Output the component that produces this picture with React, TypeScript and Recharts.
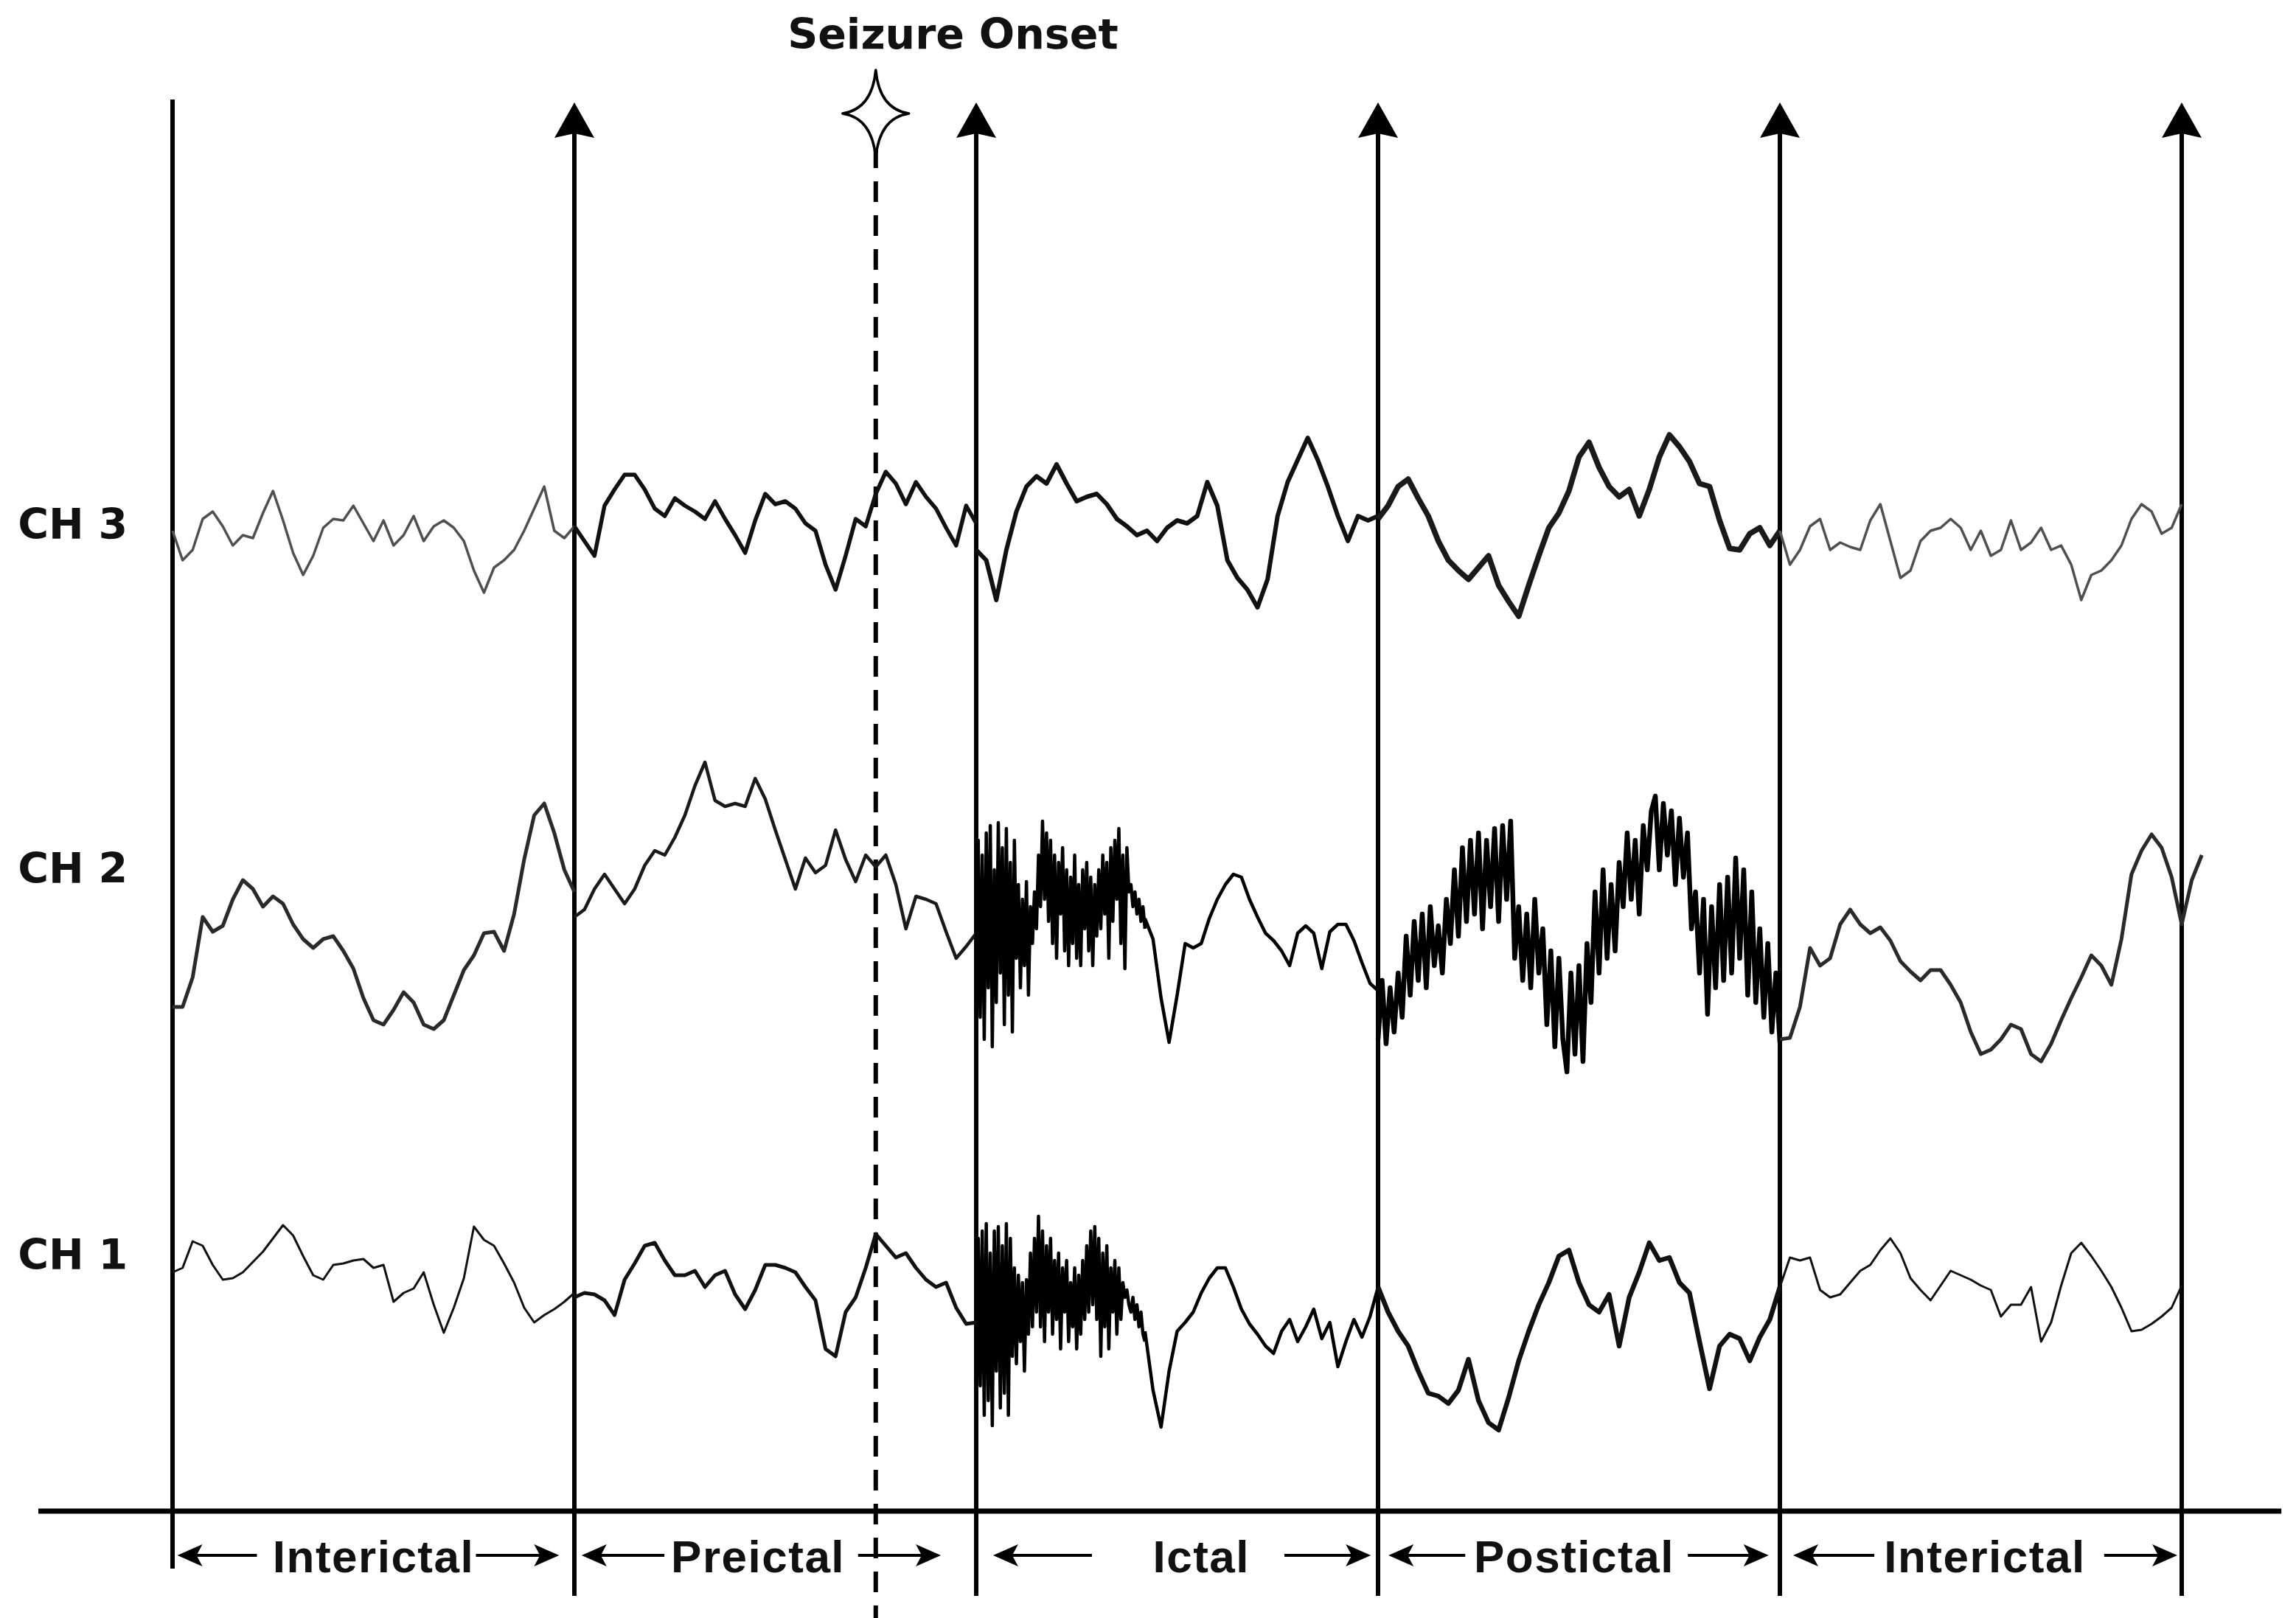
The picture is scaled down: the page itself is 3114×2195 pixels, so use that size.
import { LineChart, Line, XAxis, YAxis, ReferenceLine, ReferenceDot } from 'recharts';

// phase windows, seconds (each phase is a 10 s window)
const boundaries = [0, 10, 20, 30, 40, 50];
const phaseLabels = ['Interictal', 'Preictal', 'Ictal', 'Postictal', 'Interictal'];
const onsetTime = 17.5;
const channelLabels = ['CH 3', 'CH 2', 'CH 1'];
const channelOffsets = [665, 405, 145];

// CH 3 samples (µV deviation from channel baseline)
const ch3Interictal1 = [0, -20, -13, 8, 13, 3, -10, -3, -5, 12, 27, 7, -15, -30, -17, 2, 8, 7, 17, 5, -7, 7, -10, -3, 10, -7, 3, 7, 2, -7, -27, -42, -25, -20, -13, 0, 15, 30, 0, -5, 3];
const ch3Preictal = [3, -7, -17, 17, 28, 38, 38, 28, 15, 10, 22, 17, 13, 8, 20, 8, -3, -15, 7, 25, 18, 20, 15, 5, 0, -23, -40, -17, 8, 3, 25, 40, 32, 18, 33, 23, 15, 2, -10, 17, 5];
const ch3Ictal = [-13, -20, -47, -13, 13, 30, 37, 32, 45, 32, 20, 23, 25, 18, 8, 3, -3, 0, -7, 2, 7, 5, 10, 33, 17, -20, -32, -40, -52, -33, 10, 33, 48, 63, 48, 30, 10, -7, 10, 7, 10];
const ch3Postictal = [8, 17, 30, 35, 22, 10, -7, -20, -27, -33, -25, -17, -37, -48, -58, -37, -17, 2, 12, 27, 50, 60, 43, 30, 23, 28, 10, 28, 50, 65, 57, 47, 32, 30, 7, -12, -13, -2, 2, -10, 0];
const ch3Interictal2 = [0, -23, -13, 3, 8, -13, -8, -11, -13, 7, 18, -7, -32, -27, -7, 0, 2, 8, 2, -13, 0, -17, -13, 7, -13, -8, 2, -13, -10, -23, -47, -30, -27, -20, -10, 8, 18, 13, -2, 2, 18];

// CH 2 samples
const ch2Interictal1 = [-63, -63, -43, -2, -12, -8, 10, 23, 17, 5, 12, 7, -7, -17, -23, -17, -15, -25, -37, -57, -72, -75, -65, -53, -60, -75, -78, -72, -55, -38, -28, -13, -12, -25, 0, 37, 67, 75, 55, 30, 15];
const ch2Preictal = [-2, 3, 17, 27, 17, 7, 17, 33, 43, 40, 52, 67, 87, 103, 77, 73, 75, 73, 92, 78, 57, 37, 17, 38, 28, 33, 57, 37, 22, 40, 32, 40, 20, -10, 12, 10, 7, -12, -30, -22, -13];
const ch2IctalBurst = [
  -20, 50, -70, 40, -85, 55, -50, 60, -90, 30,
  -60, 62, -40, 45, -75, 58, -55, 35, -80, 50,
  -30, 20, -50, 10, -35, 22, -55, 5, -20, 15,
  -10, 40, 5, 63, 10, 55, -5, 50, -20, 40,
  -30, 35, 0, 45, -25, 30, -35, 25, -20, 40,
  -30, 20, -35, 30, -10, 35, -25, 25, -35, 20,
  -15, 30, -10, 40, 0, 35, -30, 45, -5, 50,
  10, 58, -20, 40, -37, 45, 15, 20, 5, 15,
  0, 10, -5, 5, -10,
];
const ch2IctalTail = [-3, -17, -57, -87, -55, -20, -23, -20, -3, 10, 20, 27, 25, 10, -2, -13, -18, -25, -35, -13, -8, -13, -37, -12, -7, -7, -18, -33, -47, -52];
const ch2Postictal = [
  -85, -45, -88, -50, -80, -40, -70, -15, -55, -5,
  -45, 0, -50, 5, -35, -8, -40, 10, -20, 30,
  -15, 45, -5, 50, 0, 55, -10, 50, 5, 58,
  -5, 60, 10, 63, -30, 5, -45, 0, -50, 10,
  -40, -10, -75, -25, -90, -30, -85, -107, -40, -95,
  -35, -100, -20, -60, 15, -40, 30, -30, 20, -25,
  35, 5, 55, 10, 50, 0, 60, 30, 70, 80,
  30, 75, 40, 70, 20, 65, 25, 55, -10, 15,
  -40, 10, -68, 5, -50, 20, -45, 25, -40, 38,
  -30, 30, -55, 15, -60, -10, -70, -20, -80, -40,
  -87,
];
const ch2Interictal2 = [-85, -84, -63, -23, -35, -30, -7, 3, -7, -13, -9, -18, -32, -39, -45, -38, -38, -48, -60, -80, -95, -92, -85, -75, -78, -95, -100, -88, -72, -57, -43, -28, -35, -48, -17, 27, 43, 54, 45, 25, -7, 23, 40];

// CH 1 samples
const ch1Interictal1 = [17, 20, 38, 35, 22, 12, 13, 17, 24, 31, 40, 49, 42, 28, 15, 12, 22, 23, 25, 26, 20, 22, -3, 3, 6, 17, -5, -24, -7, 13, 48, 39, 35, 23, 10, -7, -17, -12, -8, -3, 3];
const ch1Preictal = [0, 3, 2, -2, -12, 12, 23, 35, 37, 25, 15, 15, 18, 7, 15, 18, 2, -8, 5, 22, 22, 20, 17, 7, -2, -35, -40, -10, 0, 20, 43, 35, 27, 30, 20, 12, 7, 10, -7, -18, -17];
const ch1IctalBurst = [
  10, 40, -60, 45, -80, 50, -70, 30, -87, 45,
  -50, 48, -75, 35, -65, 50, -80, 40, -40, 20,
  -45, 15, -30, 10, -50, 12, -25, 30, -20, 40,
  -10, 55, -20, 45, -30, 35, -10, 40, -25, 25,
  -15, 30, -35, 20, -10, 25, -30, 10, -20, 20,
  -35, 15, -25, 25, -15, 35, -10, 45, -5, 48,
  -15, 40, -40, 30, -20, 35, -35, 20, -10, 25,
  -25, 20, -15, 10, 0, 5, -5, -10, 0, -15,
  -5, -20, -10, -25, -30,
];
const ch1IctalTail = [-23, -63, -88, -50, -23, -17, -10, 3, 13, 20, 20, 7, -8, -18, -25, -33, -38, -23, -15, -30, -20, -8, -28, -17, -47, -30, -15, -27, -13, 7];
const ch1Postictal = [7, -10, -23, -33, -50, -65, -67, -72, -63, -42, -70, -85, -90, -68, -43, -23, -5, 10, 28, 32, 10, -5, -10, 2, -33, 0, 17, 37, 25, 27, 10, 3, -30, -62, -33, -25, -28, -43, -27, -15, 7];
const ch1Interictal2 = [7, 27, 25, 27, 5, 0, 2, 10, 18, 22, 32, 40, 30, 13, 5, -2, 8, 18, 15, 12, 8, 5, -13, -5, -5, 7, -30, -17, 8, 30, 37, 28, 18, 7, -7, -23, -22, -18, -13, -7, 8];

const W = 3114;
const H = 2195;
const X_DOMAIN: [number, number] = [-4.294, 52.844];
const Y_DOMAIN: [number, number] = [-72.5, 1025];

type Piece = { key: string; values: number[]; t0: number; dt: number; ch: number; width: number; color: string };

const pieces: Piece[] = [
  { key: 'c3a', values: ch3Interictal1, t0: 0, dt: 0.25, ch: 0, width: 3.5, color: '#505050' },
  { key: 'c3b', values: ch3Preictal, t0: 10, dt: 0.25, ch: 0, width: 5.5, color: '#111' },
  { key: 'c3c', values: ch3Ictal, t0: 20, dt: 0.25, ch: 0, width: 6, color: '#111' },
  { key: 'c3d', values: ch3Postictal, t0: 30, dt: 0.25, ch: 0, width: 7.5, color: '#1a1a1a' },
  { key: 'c3e', values: ch3Interictal2, t0: 40, dt: 0.25, ch: 0, width: 3.5, color: '#505050' },
  { key: 'c2a', values: ch2Interictal1, t0: 0, dt: 0.25, ch: 1, width: 5, color: '#2a2a2a' },
  { key: 'c2b', values: ch2Preictal, t0: 10, dt: 0.25, ch: 1, width: 4.5, color: '#1a1a1a' },
  { key: 'c2c', values: ch2IctalBurst, t0: 20, dt: 0.05, ch: 1, width: 4.5, color: '#000' },
  { key: 'c2d', values: ch2IctalTail, t0: 24.2, dt: 0.2, ch: 1, width: 4.5, color: '#000' },
  { key: 'c2e', values: ch2Postictal, t0: 30, dt: 0.1, ch: 1, width: 6.5, color: '#000' },
  { key: 'c2f', values: ch2Interictal2, t0: 40, dt: 0.25, ch: 1, width: 5, color: '#2a2a2a' },
  { key: 'c1a', values: ch1Interictal1, t0: 0, dt: 0.25, ch: 2, width: 3, color: '#111' },
  { key: 'c1b', values: ch1Preictal, t0: 10, dt: 0.25, ch: 2, width: 5, color: '#111' },
  { key: 'c1c', values: ch1IctalBurst, t0: 20, dt: 0.05, ch: 2, width: 4.5, color: '#000' },
  { key: 'c1d', values: ch1IctalTail, t0: 24.2, dt: 0.2, ch: 2, width: 4.5, color: '#000' },
  { key: 'c1e', values: ch1Postictal, t0: 30, dt: 0.25, ch: 2, width: 6.5, color: '#111' },
  { key: 'c1f', values: ch1Interictal2, t0: 40, dt: 0.25, ch: 2, width: 3, color: '#111' },
];

const toPoints = (p: Piece) =>
  p.values.map((d, i) => ({ t: Math.round((p.t0 + i * p.dt) * 1000) / 1000, v: channelOffsets[p.ch] + d }));

// annotation layout (time units / µV units)
const labelLayout = [
  { center: 5.0, leftTip: 0.12, leftEnd: 2.1, rightStart: 7.55, rightTip: 9.62 },
  { center: 14.57, leftTip: 10.18, leftEnd: 12.24, rightStart: 17.06, rightTip: 19.12 },
  { center: 25.6, leftTip: 20.42, leftEnd: 22.88, rightStart: 27.67, rightTip: 29.82 },
  { center: 34.88, leftTip: 30.26, leftEnd: 32.17, rightStart: 37.71, rightTip: 39.72 },
  { center: 45.1, leftTip: 40.33, leftEnd: 42.35, rightStart: 48.07, rightTip: 49.89 },
];
const channelLabelY = [659.5, 426, 164];
const ARROW_Y = -30;
const LABEL_Y = -41.5;

const boldSans = "'DejaVu Sans', Verdana, sans-serif";
const labelSans = "'Liberation Sans', Arial, sans-serif";

const UpArrowHead = (p: any) => (
  <path d={`M${p.cx},${p.cy} L${p.cx + 27},${p.cy + 48} L${p.cx},${p.cy + 42} L${p.cx - 27},${p.cy + 48} Z`} fill="#000" />
);

const sideArrow = (dir: number) => (p: any) => (
  <path
    d={`M${p.cx},${p.cy} L${p.cx - dir * 34},${p.cy - 15} L${p.cx - dir * 26},${p.cy} L${p.cx - dir * 34},${p.cy + 15} Z`}
    fill="#000"
  />
);

const Star = (p: any) => {
  const { cx, cy } = p;
  return (
    <path
      d={`M${cx},${cy - 59} Q${cx + 5},${cy - 6} ${cx + 45},${cy} Q${cx + 5},${cy + 6} ${cx},${cy + 60} Q${cx - 5},${cy + 6} ${cx - 45},${cy} Q${cx - 5},${cy - 6} ${cx},${cy - 59} Z`}
      fill="#fff"
      stroke="#000"
      strokeWidth={3.5}
      strokeLinejoin="round"
    />
  );
};

const textShape = (txt: string, opts: { anchor: 'start' | 'middle'; size: number; family: string; spacing?: number }) => (p: any) => (
  <text
    x={p.cx}
    y={p.cy}
    textAnchor={opts.anchor}
    fontFamily={opts.family}
    fontWeight="bold"
    fontSize={opts.size}
    letterSpacing={opts.spacing ?? 0}
    fill="#111"
  >
    {txt}
  </text>
);

export default function App() {
  return (
    <div style={{ position: 'absolute', left: 0, top: 0, width: W, height: H, background: '#fff' }}>
      <LineChart width={W} height={H} margin={{ top: 0, right: 0, bottom: 0, left: 0 }}>
        <XAxis type="number" dataKey="t" domain={X_DOMAIN} hide allowDataOverflow />
        <YAxis type="number" domain={Y_DOMAIN} hide allowDataOverflow />

        {/* time axis */}
        <ReferenceLine segment={[{ x: -3.34, y: 0 }, { x: 52.48, y: 0 }]} stroke="#000" strokeWidth={7} />

        {/* phase boundaries */}
        {boundaries.map((b, i) => (
          <ReferenceLine
            key={`b${i}`}
            segment={[{ x: b, y: i === 0 ? 957.5 : 938 }, { x: b, y: i === 0 ? -39 : -57.5 }]}
            stroke="#000"
            strokeWidth={6}
          />
        ))}
        {boundaries.slice(1).map((b, i) => (
          <ReferenceDot key={`ah${i}`} x={b} y={955.5} r={0} shape={UpArrowHead} />
        ))}

        {/* seizure onset */}
        <ReferenceLine
          segment={[{ x: onsetTime, y: 925 }, { x: onsetTime, y: -72.5 }]}
          stroke="#000"
          strokeWidth={6}
          strokeDasharray="28 18"
        />
        <ReferenceDot x={onsetTime} y={948} r={0} shape={Star} />
        <ReferenceDot x={19.42} y={992} r={0} shape={textShape('Seizure Onset', { anchor: 'middle', size: 57, family: boldSans })} />

        {/* channel labels */}
        {channelLabels.map((c, i) => (
          <ReferenceDot key={c} x={-3.85} y={channelLabelY[i]} r={0} shape={textShape(c, { anchor: 'start', size: 57, family: boldSans })} />
        ))}

        {/* phase labels with arrows */}
        {phaseLabels.map((name, i) => {
          const l = labelLayout[i];
          return [
            <ReferenceLine key={`ls${i}`} segment={[{ x: l.leftTip + 0.3, y: ARROW_Y }, { x: l.leftEnd, y: ARROW_Y }]} stroke="#000" strokeWidth={4} />,
            <ReferenceLine key={`rs${i}`} segment={[{ x: l.rightStart, y: ARROW_Y }, { x: l.rightTip - 0.3, y: ARROW_Y }]} stroke="#000" strokeWidth={4} />,
            <ReferenceDot key={`la${i}`} x={l.leftTip} y={ARROW_Y} r={0} shape={sideArrow(-1)} />,
            <ReferenceDot key={`ra${i}`} x={l.rightTip} y={ARROW_Y} r={0} shape={sideArrow(1)} />,
            <ReferenceDot key={`lt${i}`} x={l.center} y={LABEL_Y} r={0} shape={textShape(name, { anchor: 'middle', size: 62, family: labelSans, spacing: 1.5 })} />,
          ];
        })}

        {/* EEG traces */}
        {pieces.map((p) => (
          <Line
            key={p.key}
            data={toPoints(p)}
            dataKey="v"
            type="linear"
            stroke={p.color}
            strokeWidth={p.width}
            strokeLinejoin="round"
            dot={false}
            activeDot={false}
            isAnimationActive={false}
          />
        ))}
      </LineChart>
    </div>
  );
}
